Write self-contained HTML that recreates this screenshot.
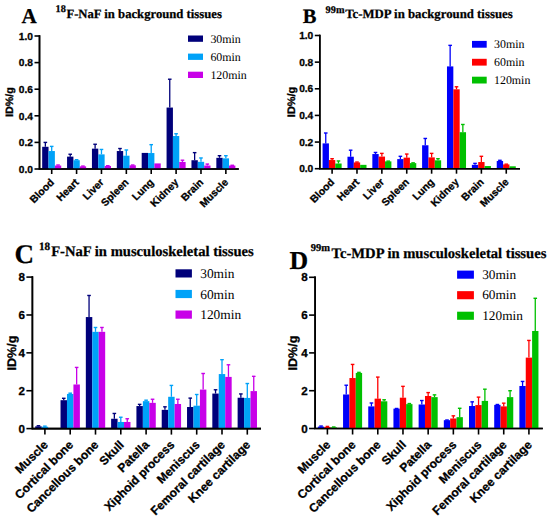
<!DOCTYPE html>
<html><head><meta charset="utf-8"><style>
html,body{margin:0;padding:0;background:#fff;width:550px;height:524px;overflow:hidden}
svg{display:block}
.s{font-family:"Liberation Sans",sans-serif;font-weight:bold;fill:#000;stroke:#000;stroke-width:0.3px}
.rb{font-family:"Liberation Serif",serif;font-weight:bold;stroke:#000;stroke-width:0.25px}
.r{font-family:"Liberation Serif",serif}
</style></head><body>
<svg width="550" height="524" viewBox="0 0 550 524" text-rendering="geometricPrecision">
<rect width="550" height="524" fill="#fff"/>
<path d="M39.5 36V169H238" fill="none" stroke="#000" stroke-width="1.6" stroke-linecap="square"/>
<line x1="34.5" y1="169" x2="39.5" y2="169" stroke="#000" stroke-width="1.6"/>
<text x="33" y="172.7" text-anchor="end" class="s" font-size="10.2">0.0</text>
<line x1="34.5" y1="142.4" x2="39.5" y2="142.4" stroke="#000" stroke-width="1.6"/>
<text x="33" y="146.1" text-anchor="end" class="s" font-size="10.2">0.2</text>
<line x1="34.5" y1="115.8" x2="39.5" y2="115.8" stroke="#000" stroke-width="1.6"/>
<text x="33" y="119.5" text-anchor="end" class="s" font-size="10.2">0.4</text>
<line x1="34.5" y1="89.2" x2="39.5" y2="89.2" stroke="#000" stroke-width="1.6"/>
<text x="33" y="92.9" text-anchor="end" class="s" font-size="10.2">0.6</text>
<line x1="34.5" y1="62.6" x2="39.5" y2="62.6" stroke="#000" stroke-width="1.6"/>
<text x="33" y="66.3" text-anchor="end" class="s" font-size="10.2">0.8</text>
<line x1="34.5" y1="36" x2="39.5" y2="36" stroke="#000" stroke-width="1.6"/>
<text x="33" y="39.7" text-anchor="end" class="s" font-size="10.2">1.0</text>
<text transform="translate(12.6,102.1) rotate(-90)" text-anchor="middle" class="s" font-size="10.7">ID%/g</text>
<line x1="51.7" y1="169" x2="51.7" y2="174" stroke="#000" stroke-width="1.6"/>
<line x1="45.35" y1="142.4" x2="45.35" y2="146.79" stroke="#00007a" stroke-width="1.3"/>
<line x1="43.55" y1="142.4" x2="47.15" y2="142.4" stroke="#00007a" stroke-width="1.4"/>
<rect x="42.18" y="146.79" width="6.35" height="22.21" fill="#00007a"/>
<line x1="51.7" y1="146.39" x2="51.7" y2="151.04" stroke="#00a2f8" stroke-width="1.3"/>
<line x1="49.9" y1="146.39" x2="53.5" y2="146.39" stroke="#00a2f8" stroke-width="1.4"/>
<rect x="48.53" y="151.04" width="6.35" height="17.96" fill="#00a2f8"/>
<line x1="58.05" y1="165.01" x2="58.05" y2="165.54" stroke="#c800e8" stroke-width="1.3"/>
<line x1="56.25" y1="165.01" x2="59.85" y2="165.01" stroke="#c800e8" stroke-width="1.4"/>
<rect x="54.88" y="165.54" width="6.35" height="3.46" fill="#c800e8"/>
<text transform="translate(54.7,183) rotate(-45)" text-anchor="end" class="s" font-size="10.4">Blood</text>
<line x1="76.58" y1="169" x2="76.58" y2="174" stroke="#000" stroke-width="1.6"/>
<line x1="70.23" y1="154.24" x2="70.23" y2="156.63" stroke="#00007a" stroke-width="1.3"/>
<line x1="68.43" y1="154.24" x2="72.03" y2="154.24" stroke="#00007a" stroke-width="1.4"/>
<rect x="67.06" y="156.63" width="6.35" height="12.37" fill="#00007a"/>
<line x1="76.58" y1="159.69" x2="76.58" y2="160.22" stroke="#00a2f8" stroke-width="1.3"/>
<line x1="74.78" y1="159.69" x2="78.38" y2="159.69" stroke="#00a2f8" stroke-width="1.4"/>
<rect x="73.41" y="160.22" width="6.35" height="8.78" fill="#00a2f8"/>
<line x1="82.93" y1="166.07" x2="82.93" y2="166.34" stroke="#c800e8" stroke-width="1.3"/>
<line x1="81.13" y1="166.07" x2="84.73" y2="166.07" stroke="#c800e8" stroke-width="1.4"/>
<rect x="79.76" y="166.34" width="6.35" height="2.66" fill="#c800e8"/>
<text transform="translate(79.58,183) rotate(-45)" text-anchor="end" class="s" font-size="10.4">Heart</text>
<line x1="101.46" y1="169" x2="101.46" y2="174" stroke="#000" stroke-width="1.6"/>
<line x1="95.11" y1="144.26" x2="95.11" y2="148.65" stroke="#00007a" stroke-width="1.3"/>
<line x1="93.31" y1="144.26" x2="96.91" y2="144.26" stroke="#00007a" stroke-width="1.4"/>
<rect x="91.94" y="148.65" width="6.35" height="20.35" fill="#00007a"/>
<line x1="101.46" y1="149.45" x2="101.46" y2="154.37" stroke="#00a2f8" stroke-width="1.3"/>
<line x1="99.66" y1="149.45" x2="103.26" y2="149.45" stroke="#00a2f8" stroke-width="1.4"/>
<rect x="98.28" y="154.37" width="6.35" height="14.63" fill="#00a2f8"/>
<line x1="107.81" y1="165.68" x2="107.81" y2="165.94" stroke="#c800e8" stroke-width="1.3"/>
<line x1="106.01" y1="165.68" x2="109.61" y2="165.68" stroke="#c800e8" stroke-width="1.4"/>
<rect x="104.64" y="165.94" width="6.35" height="3.06" fill="#c800e8"/>
<text transform="translate(104.46,183) rotate(-45)" text-anchor="end" class="s" font-size="10.4">Liver</text>
<line x1="126.34" y1="169" x2="126.34" y2="174" stroke="#000" stroke-width="1.6"/>
<line x1="119.99" y1="148.52" x2="119.99" y2="151.04" stroke="#00007a" stroke-width="1.3"/>
<line x1="118.19" y1="148.52" x2="121.79" y2="148.52" stroke="#00007a" stroke-width="1.4"/>
<rect x="116.81" y="151.04" width="6.35" height="17.96" fill="#00007a"/>
<line x1="126.34" y1="149.98" x2="126.34" y2="155.7" stroke="#00a2f8" stroke-width="1.3"/>
<line x1="124.54" y1="149.98" x2="128.14" y2="149.98" stroke="#00a2f8" stroke-width="1.4"/>
<rect x="123.16" y="155.7" width="6.35" height="13.3" fill="#00a2f8"/>
<line x1="132.69" y1="165.01" x2="132.69" y2="165.28" stroke="#c800e8" stroke-width="1.3"/>
<line x1="130.89" y1="165.01" x2="134.49" y2="165.01" stroke="#c800e8" stroke-width="1.4"/>
<rect x="129.51" y="165.28" width="6.35" height="3.72" fill="#c800e8"/>
<text transform="translate(129.34,183) rotate(-45)" text-anchor="end" class="s" font-size="10.4">Spleen</text>
<line x1="151.22" y1="169" x2="151.22" y2="174" stroke="#000" stroke-width="1.6"/>
<rect x="141.69" y="152.91" width="6.35" height="16.09" fill="#00007a"/>
<line x1="151.22" y1="144.66" x2="151.22" y2="153.04" stroke="#00a2f8" stroke-width="1.3"/>
<line x1="149.42" y1="144.66" x2="153.02" y2="144.66" stroke="#00a2f8" stroke-width="1.4"/>
<rect x="148.04" y="153.04" width="6.35" height="15.96" fill="#00a2f8"/>
<rect x="154.39" y="163.41" width="6.35" height="5.59" fill="#c800e8"/>
<text transform="translate(154.22,183) rotate(-45)" text-anchor="end" class="s" font-size="10.4">Lung</text>
<line x1="176.1" y1="169" x2="176.1" y2="174" stroke="#000" stroke-width="1.6"/>
<line x1="169.75" y1="79.22" x2="169.75" y2="107.55" stroke="#00007a" stroke-width="1.3"/>
<line x1="167.95" y1="79.22" x2="171.55" y2="79.22" stroke="#00007a" stroke-width="1.4"/>
<rect x="166.57" y="107.55" width="6.35" height="61.45" fill="#00007a"/>
<line x1="176.1" y1="133.75" x2="176.1" y2="136.02" stroke="#00a2f8" stroke-width="1.3"/>
<line x1="174.3" y1="133.75" x2="177.9" y2="133.75" stroke="#00a2f8" stroke-width="1.4"/>
<rect x="172.92" y="136.02" width="6.35" height="32.98" fill="#00a2f8"/>
<line x1="182.45" y1="160.22" x2="182.45" y2="161.95" stroke="#c800e8" stroke-width="1.3"/>
<line x1="180.65" y1="160.22" x2="184.25" y2="160.22" stroke="#c800e8" stroke-width="1.4"/>
<rect x="179.27" y="161.95" width="6.35" height="7.05" fill="#c800e8"/>
<text transform="translate(179.1,183) rotate(-45)" text-anchor="end" class="s" font-size="10.4">Kidney</text>
<line x1="200.98" y1="169" x2="200.98" y2="174" stroke="#000" stroke-width="1.6"/>
<line x1="194.63" y1="152.64" x2="194.63" y2="160.22" stroke="#00007a" stroke-width="1.3"/>
<line x1="192.83" y1="152.64" x2="196.43" y2="152.64" stroke="#00007a" stroke-width="1.4"/>
<rect x="191.46" y="160.22" width="6.35" height="8.78" fill="#00007a"/>
<line x1="200.98" y1="157.96" x2="200.98" y2="161.82" stroke="#00a2f8" stroke-width="1.3"/>
<line x1="199.18" y1="157.96" x2="202.78" y2="157.96" stroke="#00a2f8" stroke-width="1.4"/>
<rect x="197.81" y="161.82" width="6.35" height="7.18" fill="#00a2f8"/>
<line x1="207.33" y1="164.08" x2="207.33" y2="165.54" stroke="#c800e8" stroke-width="1.3"/>
<line x1="205.53" y1="164.08" x2="209.13" y2="164.08" stroke="#c800e8" stroke-width="1.4"/>
<rect x="204.16" y="165.54" width="6.35" height="3.46" fill="#c800e8"/>
<text transform="translate(203.98,183) rotate(-45)" text-anchor="end" class="s" font-size="10.4">Brain</text>
<line x1="225.86" y1="169" x2="225.86" y2="174" stroke="#000" stroke-width="1.6"/>
<line x1="219.51" y1="155.7" x2="219.51" y2="157.83" stroke="#00007a" stroke-width="1.3"/>
<line x1="217.71" y1="155.7" x2="221.31" y2="155.7" stroke="#00007a" stroke-width="1.4"/>
<rect x="216.34" y="157.83" width="6.35" height="11.17" fill="#00007a"/>
<line x1="225.86" y1="155.7" x2="225.86" y2="158.36" stroke="#00a2f8" stroke-width="1.3"/>
<line x1="224.06" y1="155.7" x2="227.66" y2="155.7" stroke="#00a2f8" stroke-width="1.4"/>
<rect x="222.69" y="158.36" width="6.35" height="10.64" fill="#00a2f8"/>
<line x1="232.21" y1="165.28" x2="232.21" y2="165.54" stroke="#c800e8" stroke-width="1.3"/>
<line x1="230.41" y1="165.28" x2="234.01" y2="165.28" stroke="#c800e8" stroke-width="1.4"/>
<rect x="229.03" y="165.54" width="6.35" height="3.46" fill="#c800e8"/>
<text transform="translate(228.86,183) rotate(-45)" text-anchor="end" class="s" font-size="10.4">Muscle</text>
<path d="M39.5 36V169H238" fill="none" stroke="#000" stroke-width="1.6" stroke-linecap="square"/>
<text x="21.6" y="23.1" class="rb" font-size="21.2">A</text>
<text x="55.6" y="12.3" class="rb" font-size="10.3">18</text>
<text x="66.4" y="18.4" class="rb" font-size="12.7">F-NaF in background tissues</text>
<rect x="188" y="35.5" width="15" height="6.3" fill="#00007a"/>
<text x="210.4" y="42.9" class="r" font-size="11.9">30min</text>
<rect x="188" y="53.6" width="15" height="6.3" fill="#00a2f8"/>
<text x="210.4" y="61" class="r" font-size="11.9">60min</text>
<rect x="188" y="71.7" width="15" height="6.3" fill="#c800e8"/>
<text x="210.4" y="79.1" class="r" font-size="11.9">120min</text>
<path d="M319.8 35.5V168.7H519.2" fill="none" stroke="#000" stroke-width="1.6" stroke-linecap="square"/>
<line x1="314.8" y1="168.7" x2="319.8" y2="168.7" stroke="#000" stroke-width="1.6"/>
<text x="313.3" y="172.4" text-anchor="end" class="s" font-size="10.2">0.0</text>
<line x1="314.8" y1="142.06" x2="319.8" y2="142.06" stroke="#000" stroke-width="1.6"/>
<text x="313.3" y="145.76" text-anchor="end" class="s" font-size="10.2">0.2</text>
<line x1="314.8" y1="115.42" x2="319.8" y2="115.42" stroke="#000" stroke-width="1.6"/>
<text x="313.3" y="119.12" text-anchor="end" class="s" font-size="10.2">0.4</text>
<line x1="314.8" y1="88.78" x2="319.8" y2="88.78" stroke="#000" stroke-width="1.6"/>
<text x="313.3" y="92.48" text-anchor="end" class="s" font-size="10.2">0.6</text>
<line x1="314.8" y1="62.14" x2="319.8" y2="62.14" stroke="#000" stroke-width="1.6"/>
<text x="313.3" y="65.84" text-anchor="end" class="s" font-size="10.2">0.8</text>
<line x1="314.8" y1="35.5" x2="319.8" y2="35.5" stroke="#000" stroke-width="1.6"/>
<text x="313.3" y="39.2" text-anchor="end" class="s" font-size="10.2">1.0</text>
<text transform="translate(295.4,102) rotate(-90)" text-anchor="middle" class="s" font-size="10.9">ID%/g</text>
<line x1="332.1" y1="168.7" x2="332.1" y2="173.7" stroke="#000" stroke-width="1.6"/>
<line x1="325.75" y1="133" x2="325.75" y2="143.39" stroke="#0000fa" stroke-width="1.3"/>
<line x1="323.95" y1="133" x2="327.55" y2="133" stroke="#0000fa" stroke-width="1.4"/>
<rect x="322.58" y="143.39" width="6.35" height="25.31" fill="#0000fa"/>
<line x1="332.1" y1="158.71" x2="332.1" y2="160.04" stroke="#ff0000" stroke-width="1.3"/>
<line x1="330.3" y1="158.71" x2="333.9" y2="158.71" stroke="#ff0000" stroke-width="1.4"/>
<rect x="328.93" y="160.04" width="6.35" height="8.66" fill="#ff0000"/>
<line x1="338.45" y1="160.97" x2="338.45" y2="163.51" stroke="#00c000" stroke-width="1.3"/>
<line x1="336.65" y1="160.97" x2="340.25" y2="160.97" stroke="#00c000" stroke-width="1.4"/>
<rect x="335.28" y="163.51" width="6.35" height="5.19" fill="#00c000"/>
<text transform="translate(335.1,182.7) rotate(-45)" text-anchor="end" class="s" font-size="10.4">Blood</text>
<line x1="356.98" y1="168.7" x2="356.98" y2="173.7" stroke="#000" stroke-width="1.6"/>
<line x1="350.63" y1="150.19" x2="350.63" y2="156.71" stroke="#0000fa" stroke-width="1.3"/>
<line x1="348.83" y1="150.19" x2="352.43" y2="150.19" stroke="#0000fa" stroke-width="1.4"/>
<rect x="347.46" y="156.71" width="6.35" height="11.99" fill="#0000fa"/>
<line x1="356.98" y1="162.04" x2="356.98" y2="162.44" stroke="#ff0000" stroke-width="1.3"/>
<line x1="355.18" y1="162.04" x2="358.78" y2="162.04" stroke="#ff0000" stroke-width="1.4"/>
<rect x="353.81" y="162.44" width="6.35" height="6.26" fill="#ff0000"/>
<rect x="360.16" y="164.84" width="6.35" height="3.86" fill="#00c000"/>
<text transform="translate(359.98,182.7) rotate(-45)" text-anchor="end" class="s" font-size="10.4">Heart</text>
<line x1="381.86" y1="168.7" x2="381.86" y2="173.7" stroke="#000" stroke-width="1.6"/>
<line x1="375.51" y1="152.45" x2="375.51" y2="154.05" stroke="#0000fa" stroke-width="1.3"/>
<line x1="373.71" y1="152.45" x2="377.31" y2="152.45" stroke="#0000fa" stroke-width="1.4"/>
<rect x="372.34" y="154.05" width="6.35" height="14.65" fill="#0000fa"/>
<line x1="381.86" y1="153.38" x2="381.86" y2="156.58" stroke="#ff0000" stroke-width="1.3"/>
<line x1="380.06" y1="153.38" x2="383.66" y2="153.38" stroke="#ff0000" stroke-width="1.4"/>
<rect x="378.69" y="156.58" width="6.35" height="12.12" fill="#ff0000"/>
<line x1="388.21" y1="161.11" x2="388.21" y2="161.37" stroke="#00c000" stroke-width="1.3"/>
<line x1="386.41" y1="161.11" x2="390.01" y2="161.11" stroke="#00c000" stroke-width="1.4"/>
<rect x="385.04" y="161.37" width="6.35" height="7.33" fill="#00c000"/>
<text transform="translate(384.86,182.7) rotate(-45)" text-anchor="end" class="s" font-size="10.4">Liver</text>
<line x1="406.74" y1="168.7" x2="406.74" y2="173.7" stroke="#000" stroke-width="1.6"/>
<line x1="400.39" y1="156.31" x2="400.39" y2="159.11" stroke="#0000fa" stroke-width="1.3"/>
<line x1="398.59" y1="156.31" x2="402.19" y2="156.31" stroke="#0000fa" stroke-width="1.4"/>
<rect x="397.22" y="159.11" width="6.35" height="9.59" fill="#0000fa"/>
<line x1="406.74" y1="154.05" x2="406.74" y2="157.64" stroke="#ff0000" stroke-width="1.3"/>
<line x1="404.94" y1="154.05" x2="408.54" y2="154.05" stroke="#ff0000" stroke-width="1.4"/>
<rect x="403.57" y="157.64" width="6.35" height="11.06" fill="#ff0000"/>
<line x1="413.09" y1="162.84" x2="413.09" y2="163.11" stroke="#00c000" stroke-width="1.3"/>
<line x1="411.29" y1="162.84" x2="414.89" y2="162.84" stroke="#00c000" stroke-width="1.4"/>
<rect x="409.92" y="163.11" width="6.35" height="5.59" fill="#00c000"/>
<text transform="translate(409.74,182.7) rotate(-45)" text-anchor="end" class="s" font-size="10.4">Spleen</text>
<line x1="431.62" y1="168.7" x2="431.62" y2="173.7" stroke="#000" stroke-width="1.6"/>
<line x1="425.27" y1="138.46" x2="425.27" y2="145.26" stroke="#0000fa" stroke-width="1.3"/>
<line x1="423.47" y1="138.46" x2="427.07" y2="138.46" stroke="#0000fa" stroke-width="1.4"/>
<rect x="422.1" y="145.26" width="6.35" height="23.44" fill="#0000fa"/>
<line x1="431.62" y1="153.38" x2="431.62" y2="157.38" stroke="#ff0000" stroke-width="1.3"/>
<line x1="429.82" y1="153.38" x2="433.42" y2="153.38" stroke="#ff0000" stroke-width="1.4"/>
<rect x="428.45" y="157.38" width="6.35" height="11.32" fill="#ff0000"/>
<line x1="437.97" y1="158.71" x2="437.97" y2="160.31" stroke="#00c000" stroke-width="1.3"/>
<line x1="436.17" y1="158.71" x2="439.77" y2="158.71" stroke="#00c000" stroke-width="1.4"/>
<rect x="434.8" y="160.31" width="6.35" height="8.39" fill="#00c000"/>
<text transform="translate(434.62,182.7) rotate(-45)" text-anchor="end" class="s" font-size="10.4">Lung</text>
<line x1="456.5" y1="168.7" x2="456.5" y2="173.7" stroke="#000" stroke-width="1.6"/>
<line x1="450.15" y1="45.36" x2="450.15" y2="66.4" stroke="#0000fa" stroke-width="1.3"/>
<line x1="448.35" y1="45.36" x2="451.95" y2="45.36" stroke="#0000fa" stroke-width="1.4"/>
<rect x="446.98" y="66.4" width="6.35" height="102.3" fill="#0000fa"/>
<line x1="456.5" y1="86.78" x2="456.5" y2="89.31" stroke="#ff0000" stroke-width="1.3"/>
<line x1="454.7" y1="86.78" x2="458.3" y2="86.78" stroke="#ff0000" stroke-width="1.4"/>
<rect x="453.33" y="89.31" width="6.35" height="79.39" fill="#ff0000"/>
<line x1="462.85" y1="124.48" x2="462.85" y2="132.2" stroke="#00c000" stroke-width="1.3"/>
<line x1="461.05" y1="124.48" x2="464.65" y2="124.48" stroke="#00c000" stroke-width="1.4"/>
<rect x="459.68" y="132.2" width="6.35" height="36.5" fill="#00c000"/>
<text transform="translate(459.5,182.7) rotate(-45)" text-anchor="end" class="s" font-size="10.4">Kidney</text>
<line x1="481.38" y1="168.7" x2="481.38" y2="173.7" stroke="#000" stroke-width="1.6"/>
<line x1="475.03" y1="163.37" x2="475.03" y2="164.84" stroke="#0000fa" stroke-width="1.3"/>
<line x1="473.23" y1="163.37" x2="476.83" y2="163.37" stroke="#0000fa" stroke-width="1.4"/>
<rect x="471.86" y="164.84" width="6.35" height="3.86" fill="#0000fa"/>
<line x1="481.38" y1="156.31" x2="481.38" y2="162.04" stroke="#ff0000" stroke-width="1.3"/>
<line x1="479.58" y1="156.31" x2="483.18" y2="156.31" stroke="#ff0000" stroke-width="1.4"/>
<rect x="478.21" y="162.04" width="6.35" height="6.66" fill="#ff0000"/>
<rect x="484.56" y="166.04" width="6.35" height="2.66" fill="#00c000"/>
<text transform="translate(484.38,182.7) rotate(-45)" text-anchor="end" class="s" font-size="10.4">Brain</text>
<line x1="506.26" y1="168.7" x2="506.26" y2="173.7" stroke="#000" stroke-width="1.6"/>
<line x1="499.91" y1="160.31" x2="499.91" y2="160.97" stroke="#0000fa" stroke-width="1.3"/>
<line x1="498.11" y1="160.31" x2="501.71" y2="160.31" stroke="#0000fa" stroke-width="1.4"/>
<rect x="496.74" y="160.97" width="6.35" height="7.73" fill="#0000fa"/>
<line x1="506.26" y1="164.17" x2="506.26" y2="164.44" stroke="#ff0000" stroke-width="1.3"/>
<line x1="504.46" y1="164.17" x2="508.06" y2="164.17" stroke="#ff0000" stroke-width="1.4"/>
<rect x="503.09" y="164.44" width="6.35" height="4.26" fill="#ff0000"/>
<rect x="509.44" y="166.3" width="6.35" height="2.4" fill="#00c000"/>
<text transform="translate(509.26,182.7) rotate(-45)" text-anchor="end" class="s" font-size="10.4">Muscle</text>
<path d="M319.8 35.5V168.7H519.2" fill="none" stroke="#000" stroke-width="1.6" stroke-linecap="square"/>
<text x="302.8" y="23.3" class="rb" font-size="20.5">B</text>
<text x="325.6" y="13.4" class="rb" font-size="10.3">99m</text>
<text x="345.2" y="18.1" class="rb" font-size="12.8">Tc-MDP in background tissues</text>
<rect x="472" y="40.9" width="14.7" height="6.8" fill="#0000fa"/>
<text x="494" y="48.4" class="r" font-size="11.9">30min</text>
<rect x="472" y="58.8" width="14.7" height="6.8" fill="#ff0000"/>
<text x="494" y="66.3" class="r" font-size="11.9">60min</text>
<rect x="472" y="76.7" width="14.7" height="6.8" fill="#00c000"/>
<text x="494" y="84.2" class="r" font-size="11.9">120min</text>
<path d="M32.4 277.1V428.6H260.2" fill="none" stroke="#000" stroke-width="1.6" stroke-linecap="square"/>
<line x1="26.4" y1="428.6" x2="32.4" y2="428.6" stroke="#000" stroke-width="1.6"/>
<text x="24.9" y="432.7" text-anchor="end" class="s" font-size="11.6">0</text>
<line x1="26.4" y1="390.73" x2="32.4" y2="390.73" stroke="#000" stroke-width="1.6"/>
<text x="24.9" y="394.83" text-anchor="end" class="s" font-size="11.6">2</text>
<line x1="26.4" y1="352.85" x2="32.4" y2="352.85" stroke="#000" stroke-width="1.6"/>
<text x="24.9" y="356.95" text-anchor="end" class="s" font-size="11.6">4</text>
<line x1="26.4" y1="314.98" x2="32.4" y2="314.98" stroke="#000" stroke-width="1.6"/>
<text x="24.9" y="319.08" text-anchor="end" class="s" font-size="11.6">6</text>
<line x1="26.4" y1="277.1" x2="32.4" y2="277.1" stroke="#000" stroke-width="1.6"/>
<text x="24.9" y="281.2" text-anchor="end" class="s" font-size="11.6">8</text>
<text transform="translate(15.5,353.1) rotate(-90)" text-anchor="middle" class="s" font-size="12.5">ID%/g</text>
<line x1="44.9" y1="428.6" x2="44.9" y2="434.6" stroke="#000" stroke-width="1.6"/>
<line x1="38.45" y1="425.76" x2="38.45" y2="426.33" stroke="#00007a" stroke-width="1.3"/>
<line x1="36.65" y1="425.76" x2="40.25" y2="425.76" stroke="#00007a" stroke-width="1.4"/>
<rect x="35.22" y="426.33" width="6.45" height="2.27" fill="#00007a"/>
<line x1="44.9" y1="426.14" x2="44.9" y2="426.71" stroke="#00a2f8" stroke-width="1.3"/>
<line x1="43.1" y1="426.14" x2="46.7" y2="426.14" stroke="#00a2f8" stroke-width="1.4"/>
<rect x="41.67" y="426.71" width="6.45" height="1.89" fill="#00a2f8"/>
<rect x="48.12" y="428.6" width="6.45" height="0" fill="#c800e8"/>
<text transform="translate(48.7,445.6) rotate(-45)" text-anchor="end" class="s" font-size="12">Muscle</text>
<line x1="70.2" y1="428.6" x2="70.2" y2="434.6" stroke="#000" stroke-width="1.6"/>
<line x1="63.75" y1="398.3" x2="63.75" y2="400.19" stroke="#00007a" stroke-width="1.3"/>
<line x1="61.95" y1="398.3" x2="65.55" y2="398.3" stroke="#00007a" stroke-width="1.4"/>
<rect x="60.53" y="400.19" width="6.45" height="28.41" fill="#00007a"/>
<line x1="70.2" y1="393.19" x2="70.2" y2="393.94" stroke="#00a2f8" stroke-width="1.3"/>
<line x1="68.4" y1="393.19" x2="72" y2="393.19" stroke="#00a2f8" stroke-width="1.4"/>
<rect x="66.98" y="393.94" width="6.45" height="34.66" fill="#00a2f8"/>
<line x1="76.65" y1="367.43" x2="76.65" y2="384.48" stroke="#c800e8" stroke-width="1.3"/>
<line x1="74.85" y1="367.43" x2="78.45" y2="367.43" stroke="#c800e8" stroke-width="1.4"/>
<rect x="73.43" y="384.48" width="6.45" height="44.12" fill="#c800e8"/>
<text transform="translate(74,445.6) rotate(-45)" text-anchor="end" class="s" font-size="12">Cortical bone</text>
<line x1="95.5" y1="428.6" x2="95.5" y2="434.6" stroke="#000" stroke-width="1.6"/>
<line x1="89.05" y1="295.47" x2="89.05" y2="317.06" stroke="#00007a" stroke-width="1.3"/>
<line x1="87.25" y1="295.47" x2="90.85" y2="295.47" stroke="#00007a" stroke-width="1.4"/>
<rect x="85.83" y="317.06" width="6.45" height="111.54" fill="#00007a"/>
<line x1="95.5" y1="327.47" x2="95.5" y2="331.83" stroke="#00a2f8" stroke-width="1.3"/>
<line x1="93.7" y1="327.47" x2="97.3" y2="327.47" stroke="#00a2f8" stroke-width="1.4"/>
<rect x="92.28" y="331.83" width="6.45" height="96.77" fill="#00a2f8"/>
<line x1="101.95" y1="327.47" x2="101.95" y2="331.83" stroke="#c800e8" stroke-width="1.3"/>
<line x1="100.15" y1="327.47" x2="103.75" y2="327.47" stroke="#c800e8" stroke-width="1.4"/>
<rect x="98.73" y="331.83" width="6.45" height="96.77" fill="#c800e8"/>
<text transform="translate(99.3,445.6) rotate(-45)" text-anchor="end" class="s" font-size="12">Cancellous bone</text>
<line x1="120.8" y1="428.6" x2="120.8" y2="434.6" stroke="#000" stroke-width="1.6"/>
<line x1="114.35" y1="413.45" x2="114.35" y2="418.75" stroke="#00007a" stroke-width="1.3"/>
<line x1="112.55" y1="413.45" x2="116.15" y2="413.45" stroke="#00007a" stroke-width="1.4"/>
<rect x="111.13" y="418.75" width="6.45" height="9.85" fill="#00007a"/>
<line x1="120.8" y1="417.24" x2="120.8" y2="421.97" stroke="#00a2f8" stroke-width="1.3"/>
<line x1="119" y1="417.24" x2="122.6" y2="417.24" stroke="#00a2f8" stroke-width="1.4"/>
<rect x="117.58" y="421.97" width="6.45" height="6.63" fill="#00a2f8"/>
<line x1="127.25" y1="418.75" x2="127.25" y2="421.97" stroke="#c800e8" stroke-width="1.3"/>
<line x1="125.45" y1="418.75" x2="129.05" y2="418.75" stroke="#c800e8" stroke-width="1.4"/>
<rect x="124.03" y="421.97" width="6.45" height="6.63" fill="#c800e8"/>
<text transform="translate(124.6,445.6) rotate(-45)" text-anchor="end" class="s" font-size="12">Skull</text>
<line x1="146.1" y1="428.6" x2="146.1" y2="434.6" stroke="#000" stroke-width="1.6"/>
<line x1="139.65" y1="404.36" x2="139.65" y2="406.06" stroke="#00007a" stroke-width="1.3"/>
<line x1="137.85" y1="404.36" x2="141.45" y2="404.36" stroke="#00007a" stroke-width="1.4"/>
<rect x="136.42" y="406.06" width="6.45" height="22.54" fill="#00007a"/>
<line x1="146.1" y1="400.19" x2="146.1" y2="401.14" stroke="#00a2f8" stroke-width="1.3"/>
<line x1="144.3" y1="400.19" x2="147.9" y2="400.19" stroke="#00a2f8" stroke-width="1.4"/>
<rect x="142.87" y="401.14" width="6.45" height="27.46" fill="#00a2f8"/>
<line x1="152.55" y1="399.25" x2="152.55" y2="402.85" stroke="#c800e8" stroke-width="1.3"/>
<line x1="150.75" y1="399.25" x2="154.35" y2="399.25" stroke="#c800e8" stroke-width="1.4"/>
<rect x="149.32" y="402.85" width="6.45" height="25.75" fill="#c800e8"/>
<text transform="translate(149.9,445.6) rotate(-45)" text-anchor="end" class="s" font-size="12">Patella</text>
<line x1="171.4" y1="428.6" x2="171.4" y2="434.6" stroke="#000" stroke-width="1.6"/>
<line x1="164.95" y1="406.82" x2="164.95" y2="409.85" stroke="#00007a" stroke-width="1.3"/>
<line x1="163.15" y1="406.82" x2="166.75" y2="406.82" stroke="#00007a" stroke-width="1.4"/>
<rect x="161.72" y="409.85" width="6.45" height="18.75" fill="#00007a"/>
<line x1="171.4" y1="385.42" x2="171.4" y2="396.79" stroke="#00a2f8" stroke-width="1.3"/>
<line x1="169.6" y1="385.42" x2="173.2" y2="385.42" stroke="#00a2f8" stroke-width="1.4"/>
<rect x="168.17" y="396.79" width="6.45" height="31.81" fill="#00a2f8"/>
<line x1="177.85" y1="399.25" x2="177.85" y2="403.98" stroke="#c800e8" stroke-width="1.3"/>
<line x1="176.05" y1="399.25" x2="179.65" y2="399.25" stroke="#c800e8" stroke-width="1.4"/>
<rect x="174.62" y="403.98" width="6.45" height="24.62" fill="#c800e8"/>
<text transform="translate(175.2,445.6) rotate(-45)" text-anchor="end" class="s" font-size="12">Xiphoid process</text>
<line x1="196.7" y1="428.6" x2="196.7" y2="434.6" stroke="#000" stroke-width="1.6"/>
<line x1="190.25" y1="398.11" x2="190.25" y2="407.01" stroke="#00007a" stroke-width="1.3"/>
<line x1="188.45" y1="398.11" x2="192.05" y2="398.11" stroke="#00007a" stroke-width="1.4"/>
<rect x="187.03" y="407.01" width="6.45" height="21.59" fill="#00007a"/>
<line x1="196.7" y1="394.51" x2="196.7" y2="405.69" stroke="#00a2f8" stroke-width="1.3"/>
<line x1="194.9" y1="394.51" x2="198.5" y2="394.51" stroke="#00a2f8" stroke-width="1.4"/>
<rect x="193.47" y="405.69" width="6.45" height="22.91" fill="#00a2f8"/>
<line x1="203.15" y1="373.49" x2="203.15" y2="389.59" stroke="#c800e8" stroke-width="1.3"/>
<line x1="201.35" y1="373.49" x2="204.95" y2="373.49" stroke="#c800e8" stroke-width="1.4"/>
<rect x="199.93" y="389.59" width="6.45" height="39.01" fill="#c800e8"/>
<text transform="translate(200.5,445.6) rotate(-45)" text-anchor="end" class="s" font-size="12">Meniscus</text>
<line x1="222" y1="428.6" x2="222" y2="434.6" stroke="#000" stroke-width="1.6"/>
<line x1="215.55" y1="389.78" x2="215.55" y2="393.57" stroke="#00007a" stroke-width="1.3"/>
<line x1="213.75" y1="389.78" x2="217.35" y2="389.78" stroke="#00007a" stroke-width="1.4"/>
<rect x="212.32" y="393.57" width="6.45" height="35.03" fill="#00007a"/>
<line x1="222" y1="359.67" x2="222" y2="374.06" stroke="#00a2f8" stroke-width="1.3"/>
<line x1="220.2" y1="359.67" x2="223.8" y2="359.67" stroke="#00a2f8" stroke-width="1.4"/>
<rect x="218.77" y="374.06" width="6.45" height="54.54" fill="#00a2f8"/>
<line x1="228.45" y1="364.78" x2="228.45" y2="376.9" stroke="#c800e8" stroke-width="1.3"/>
<line x1="226.65" y1="364.78" x2="230.25" y2="364.78" stroke="#c800e8" stroke-width="1.4"/>
<rect x="225.22" y="376.9" width="6.45" height="51.7" fill="#c800e8"/>
<text transform="translate(225.8,445.6) rotate(-45)" text-anchor="end" class="s" font-size="12">Femoral cartilage</text>
<line x1="247.3" y1="428.6" x2="247.3" y2="434.6" stroke="#000" stroke-width="1.6"/>
<line x1="240.85" y1="393.94" x2="240.85" y2="397.73" stroke="#00007a" stroke-width="1.3"/>
<line x1="239.05" y1="393.94" x2="242.65" y2="393.94" stroke="#00007a" stroke-width="1.4"/>
<rect x="237.62" y="397.73" width="6.45" height="30.87" fill="#00007a"/>
<line x1="247.3" y1="383.53" x2="247.3" y2="397.92" stroke="#00a2f8" stroke-width="1.3"/>
<line x1="245.5" y1="383.53" x2="249.1" y2="383.53" stroke="#00a2f8" stroke-width="1.4"/>
<rect x="244.07" y="397.92" width="6.45" height="30.68" fill="#00a2f8"/>
<line x1="253.75" y1="376.33" x2="253.75" y2="391.1" stroke="#c800e8" stroke-width="1.3"/>
<line x1="251.95" y1="376.33" x2="255.55" y2="376.33" stroke="#c800e8" stroke-width="1.4"/>
<rect x="250.53" y="391.1" width="6.45" height="37.5" fill="#c800e8"/>
<text transform="translate(251.1,445.6) rotate(-45)" text-anchor="end" class="s" font-size="12">Knee cartilage</text>
<path d="M32.4 277.1V428.6H260.2" fill="none" stroke="#000" stroke-width="1.6" stroke-linecap="square"/>
<text x="14.5" y="263.1" class="rb" font-size="27">C</text>
<text x="39" y="249.7" class="rb" font-size="11.2">18</text>
<text x="51.2" y="256.2" class="rb" font-size="14.6">F-NaF in musculoskeletal tissues</text>
<rect x="175.5" y="269.3" width="16.4" height="8.2" fill="#00007a"/>
<text x="200.2" y="278" class="r" font-size="13.4">30min</text>
<rect x="175.5" y="289.9" width="16.4" height="8.2" fill="#00a2f8"/>
<text x="200.2" y="298.6" class="r" font-size="13.4">60min</text>
<rect x="175.5" y="310.5" width="16.4" height="8.2" fill="#c800e8"/>
<text x="200.2" y="319.2" class="r" font-size="13.4">120min</text>
<path d="M315.1 277.3V428.5H542" fill="none" stroke="#000" stroke-width="1.6" stroke-linecap="square"/>
<line x1="309.1" y1="428.5" x2="315.1" y2="428.5" stroke="#000" stroke-width="1.6"/>
<text x="307.6" y="432.6" text-anchor="end" class="s" font-size="11.6">0</text>
<line x1="309.1" y1="390.7" x2="315.1" y2="390.7" stroke="#000" stroke-width="1.6"/>
<text x="307.6" y="394.8" text-anchor="end" class="s" font-size="11.6">2</text>
<line x1="309.1" y1="352.9" x2="315.1" y2="352.9" stroke="#000" stroke-width="1.6"/>
<text x="307.6" y="357" text-anchor="end" class="s" font-size="11.6">4</text>
<line x1="309.1" y1="315.1" x2="315.1" y2="315.1" stroke="#000" stroke-width="1.6"/>
<text x="307.6" y="319.2" text-anchor="end" class="s" font-size="11.6">6</text>
<line x1="309.1" y1="277.3" x2="315.1" y2="277.3" stroke="#000" stroke-width="1.6"/>
<text x="307.6" y="281.4" text-anchor="end" class="s" font-size="11.6">8</text>
<text transform="translate(297.4,353.1) rotate(-90)" text-anchor="middle" class="s" font-size="12.5">ID%/g</text>
<line x1="327.4" y1="428.5" x2="327.4" y2="434.5" stroke="#000" stroke-width="1.6"/>
<line x1="321.05" y1="426.04" x2="321.05" y2="426.61" stroke="#0000fa" stroke-width="1.3"/>
<line x1="319.25" y1="426.04" x2="322.85" y2="426.04" stroke="#0000fa" stroke-width="1.4"/>
<rect x="317.88" y="426.61" width="6.35" height="1.89" fill="#0000fa"/>
<line x1="327.4" y1="426.42" x2="327.4" y2="426.99" stroke="#ff0000" stroke-width="1.3"/>
<line x1="325.6" y1="426.42" x2="329.2" y2="426.42" stroke="#ff0000" stroke-width="1.4"/>
<rect x="324.23" y="426.99" width="6.35" height="1.51" fill="#ff0000"/>
<line x1="333.75" y1="426.99" x2="333.75" y2="427.37" stroke="#00c000" stroke-width="1.3"/>
<line x1="331.95" y1="426.99" x2="335.55" y2="426.99" stroke="#00c000" stroke-width="1.4"/>
<rect x="330.57" y="427.37" width="6.35" height="1.13" fill="#00c000"/>
<text transform="translate(331.2,445.5) rotate(-45)" text-anchor="end" class="s" font-size="12">Muscle</text>
<line x1="352.59" y1="428.5" x2="352.59" y2="434.5" stroke="#000" stroke-width="1.6"/>
<line x1="346.24" y1="385.22" x2="346.24" y2="394.48" stroke="#0000fa" stroke-width="1.3"/>
<line x1="344.44" y1="385.22" x2="348.04" y2="385.22" stroke="#0000fa" stroke-width="1.4"/>
<rect x="343.06" y="394.48" width="6.35" height="34.02" fill="#0000fa"/>
<line x1="352.59" y1="364.43" x2="352.59" y2="378.04" stroke="#ff0000" stroke-width="1.3"/>
<line x1="350.79" y1="364.43" x2="354.39" y2="364.43" stroke="#ff0000" stroke-width="1.4"/>
<rect x="349.42" y="378.04" width="6.35" height="50.46" fill="#ff0000"/>
<line x1="358.94" y1="372.37" x2="358.94" y2="372.93" stroke="#00c000" stroke-width="1.3"/>
<line x1="357.14" y1="372.37" x2="360.74" y2="372.37" stroke="#00c000" stroke-width="1.4"/>
<rect x="355.76" y="372.93" width="6.35" height="55.57" fill="#00c000"/>
<text transform="translate(356.39,445.5) rotate(-45)" text-anchor="end" class="s" font-size="12">Cortical bone</text>
<line x1="377.78" y1="428.5" x2="377.78" y2="434.5" stroke="#000" stroke-width="1.6"/>
<line x1="371.43" y1="402.99" x2="371.43" y2="406.39" stroke="#0000fa" stroke-width="1.3"/>
<line x1="369.63" y1="402.99" x2="373.23" y2="402.99" stroke="#0000fa" stroke-width="1.4"/>
<rect x="368.25" y="406.39" width="6.35" height="22.11" fill="#0000fa"/>
<line x1="377.78" y1="377.09" x2="377.78" y2="398.64" stroke="#ff0000" stroke-width="1.3"/>
<line x1="375.98" y1="377.09" x2="379.58" y2="377.09" stroke="#ff0000" stroke-width="1.4"/>
<rect x="374.61" y="398.64" width="6.35" height="29.86" fill="#ff0000"/>
<line x1="384.13" y1="399.77" x2="384.13" y2="401.28" stroke="#00c000" stroke-width="1.3"/>
<line x1="382.33" y1="399.77" x2="385.93" y2="399.77" stroke="#00c000" stroke-width="1.4"/>
<rect x="380.95" y="401.28" width="6.35" height="27.22" fill="#00c000"/>
<text transform="translate(381.58,445.5) rotate(-45)" text-anchor="end" class="s" font-size="12">Cancellous bone</text>
<line x1="402.97" y1="428.5" x2="402.97" y2="434.5" stroke="#000" stroke-width="1.6"/>
<line x1="396.62" y1="408.47" x2="396.62" y2="408.65" stroke="#0000fa" stroke-width="1.3"/>
<line x1="394.82" y1="408.47" x2="398.42" y2="408.47" stroke="#0000fa" stroke-width="1.4"/>
<rect x="393.44" y="408.65" width="6.35" height="19.85" fill="#0000fa"/>
<line x1="402.97" y1="386.35" x2="402.97" y2="397.69" stroke="#ff0000" stroke-width="1.3"/>
<line x1="401.17" y1="386.35" x2="404.77" y2="386.35" stroke="#ff0000" stroke-width="1.4"/>
<rect x="399.8" y="397.69" width="6.35" height="30.81" fill="#ff0000"/>
<line x1="409.32" y1="403.55" x2="409.32" y2="404.12" stroke="#00c000" stroke-width="1.3"/>
<line x1="407.52" y1="403.55" x2="411.12" y2="403.55" stroke="#00c000" stroke-width="1.4"/>
<rect x="406.14" y="404.12" width="6.35" height="24.38" fill="#00c000"/>
<text transform="translate(406.77,445.5) rotate(-45)" text-anchor="end" class="s" font-size="12">Skull</text>
<line x1="428.16" y1="428.5" x2="428.16" y2="434.5" stroke="#000" stroke-width="1.6"/>
<line x1="421.81" y1="400.53" x2="421.81" y2="404.5" stroke="#0000fa" stroke-width="1.3"/>
<line x1="420.01" y1="400.53" x2="423.61" y2="400.53" stroke="#0000fa" stroke-width="1.4"/>
<rect x="418.63" y="404.5" width="6.35" height="24" fill="#0000fa"/>
<line x1="428.16" y1="392.59" x2="428.16" y2="395.99" stroke="#ff0000" stroke-width="1.3"/>
<line x1="426.36" y1="392.59" x2="429.96" y2="392.59" stroke="#ff0000" stroke-width="1.4"/>
<rect x="424.99" y="395.99" width="6.35" height="32.51" fill="#ff0000"/>
<line x1="434.51" y1="394.86" x2="434.51" y2="397.13" stroke="#00c000" stroke-width="1.3"/>
<line x1="432.71" y1="394.86" x2="436.31" y2="394.86" stroke="#00c000" stroke-width="1.4"/>
<rect x="431.33" y="397.13" width="6.35" height="31.37" fill="#00c000"/>
<text transform="translate(431.96,445.5) rotate(-45)" text-anchor="end" class="s" font-size="12">Patella</text>
<line x1="453.35" y1="428.5" x2="453.35" y2="434.5" stroke="#000" stroke-width="1.6"/>
<line x1="447" y1="420" x2="447" y2="420.18" stroke="#0000fa" stroke-width="1.3"/>
<line x1="445.2" y1="420" x2="448.8" y2="420" stroke="#0000fa" stroke-width="1.4"/>
<rect x="443.82" y="420.18" width="6.35" height="8.32" fill="#0000fa"/>
<line x1="453.35" y1="415.84" x2="453.35" y2="418.48" stroke="#ff0000" stroke-width="1.3"/>
<line x1="451.55" y1="415.84" x2="455.15" y2="415.84" stroke="#ff0000" stroke-width="1.4"/>
<rect x="450.18" y="418.48" width="6.35" height="10.02" fill="#ff0000"/>
<line x1="459.7" y1="408.28" x2="459.7" y2="417.16" stroke="#00c000" stroke-width="1.3"/>
<line x1="457.9" y1="408.28" x2="461.5" y2="408.28" stroke="#00c000" stroke-width="1.4"/>
<rect x="456.52" y="417.16" width="6.35" height="11.34" fill="#00c000"/>
<text transform="translate(457.15,445.5) rotate(-45)" text-anchor="end" class="s" font-size="12">Xiphoid process</text>
<line x1="478.54" y1="428.5" x2="478.54" y2="434.5" stroke="#000" stroke-width="1.6"/>
<line x1="472.19" y1="401.85" x2="472.19" y2="406.01" stroke="#0000fa" stroke-width="1.3"/>
<line x1="470.39" y1="401.85" x2="473.99" y2="401.85" stroke="#0000fa" stroke-width="1.4"/>
<rect x="469.01" y="406.01" width="6.35" height="22.49" fill="#0000fa"/>
<line x1="478.54" y1="397.13" x2="478.54" y2="405.06" stroke="#ff0000" stroke-width="1.3"/>
<line x1="476.74" y1="397.13" x2="480.34" y2="397.13" stroke="#ff0000" stroke-width="1.4"/>
<rect x="475.37" y="405.06" width="6.35" height="23.44" fill="#ff0000"/>
<line x1="484.89" y1="389.19" x2="484.89" y2="400.91" stroke="#00c000" stroke-width="1.3"/>
<line x1="483.09" y1="389.19" x2="486.69" y2="389.19" stroke="#00c000" stroke-width="1.4"/>
<rect x="481.71" y="400.91" width="6.35" height="27.59" fill="#00c000"/>
<text transform="translate(482.34,445.5) rotate(-45)" text-anchor="end" class="s" font-size="12">Meniscus</text>
<line x1="503.73" y1="428.5" x2="503.73" y2="434.5" stroke="#000" stroke-width="1.6"/>
<line x1="497.38" y1="404.5" x2="497.38" y2="404.88" stroke="#0000fa" stroke-width="1.3"/>
<line x1="495.58" y1="404.5" x2="499.18" y2="404.5" stroke="#0000fa" stroke-width="1.4"/>
<rect x="494.21" y="404.88" width="6.35" height="23.62" fill="#0000fa"/>
<line x1="503.73" y1="403.17" x2="503.73" y2="406.39" stroke="#ff0000" stroke-width="1.3"/>
<line x1="501.93" y1="403.17" x2="505.53" y2="403.17" stroke="#ff0000" stroke-width="1.4"/>
<rect x="500.56" y="406.39" width="6.35" height="22.11" fill="#ff0000"/>
<line x1="510.08" y1="390.7" x2="510.08" y2="397.13" stroke="#00c000" stroke-width="1.3"/>
<line x1="508.28" y1="390.7" x2="511.88" y2="390.7" stroke="#00c000" stroke-width="1.4"/>
<rect x="506.91" y="397.13" width="6.35" height="31.37" fill="#00c000"/>
<text transform="translate(507.53,445.5) rotate(-45)" text-anchor="end" class="s" font-size="12">Femoral cartilage</text>
<line x1="528.92" y1="428.5" x2="528.92" y2="434.5" stroke="#000" stroke-width="1.6"/>
<line x1="522.57" y1="381.44" x2="522.57" y2="385.98" stroke="#0000fa" stroke-width="1.3"/>
<line x1="520.77" y1="381.44" x2="524.37" y2="381.44" stroke="#0000fa" stroke-width="1.4"/>
<rect x="519.39" y="385.98" width="6.35" height="42.52" fill="#0000fa"/>
<line x1="528.92" y1="340.43" x2="528.92" y2="357.62" stroke="#ff0000" stroke-width="1.3"/>
<line x1="527.12" y1="340.43" x2="530.72" y2="340.43" stroke="#ff0000" stroke-width="1.4"/>
<rect x="525.75" y="357.62" width="6.35" height="70.88" fill="#ff0000"/>
<line x1="535.27" y1="298.28" x2="535.27" y2="330.98" stroke="#00c000" stroke-width="1.3"/>
<line x1="533.47" y1="298.28" x2="537.07" y2="298.28" stroke="#00c000" stroke-width="1.4"/>
<rect x="532.1" y="330.98" width="6.35" height="97.52" fill="#00c000"/>
<text transform="translate(532.72,445.5) rotate(-45)" text-anchor="end" class="s" font-size="12">Knee cartilage</text>
<path d="M315.1 277.3V428.5H542" fill="none" stroke="#000" stroke-width="1.6" stroke-linecap="square"/>
<text x="289.6" y="268.7" class="rb" font-size="25.8">D</text>
<text x="310.7" y="250.8" class="rb" font-size="10.5">99m</text>
<text x="331.6" y="257.7" class="rb" font-size="14.6">Tc-MDP in musculoskeletal tissues</text>
<rect x="457.1" y="270.6" width="16.8" height="8.1" fill="#0000fa"/>
<text x="482.2" y="278.8" class="r" font-size="13.3">30min</text>
<rect x="457.1" y="291.15" width="16.8" height="8.1" fill="#ff0000"/>
<text x="482.2" y="299.35" class="r" font-size="13.3">60min</text>
<rect x="457.1" y="311.7" width="16.8" height="8.1" fill="#00c000"/>
<text x="482.2" y="319.9" class="r" font-size="13.3">120min</text>
</svg>
</body></html>
